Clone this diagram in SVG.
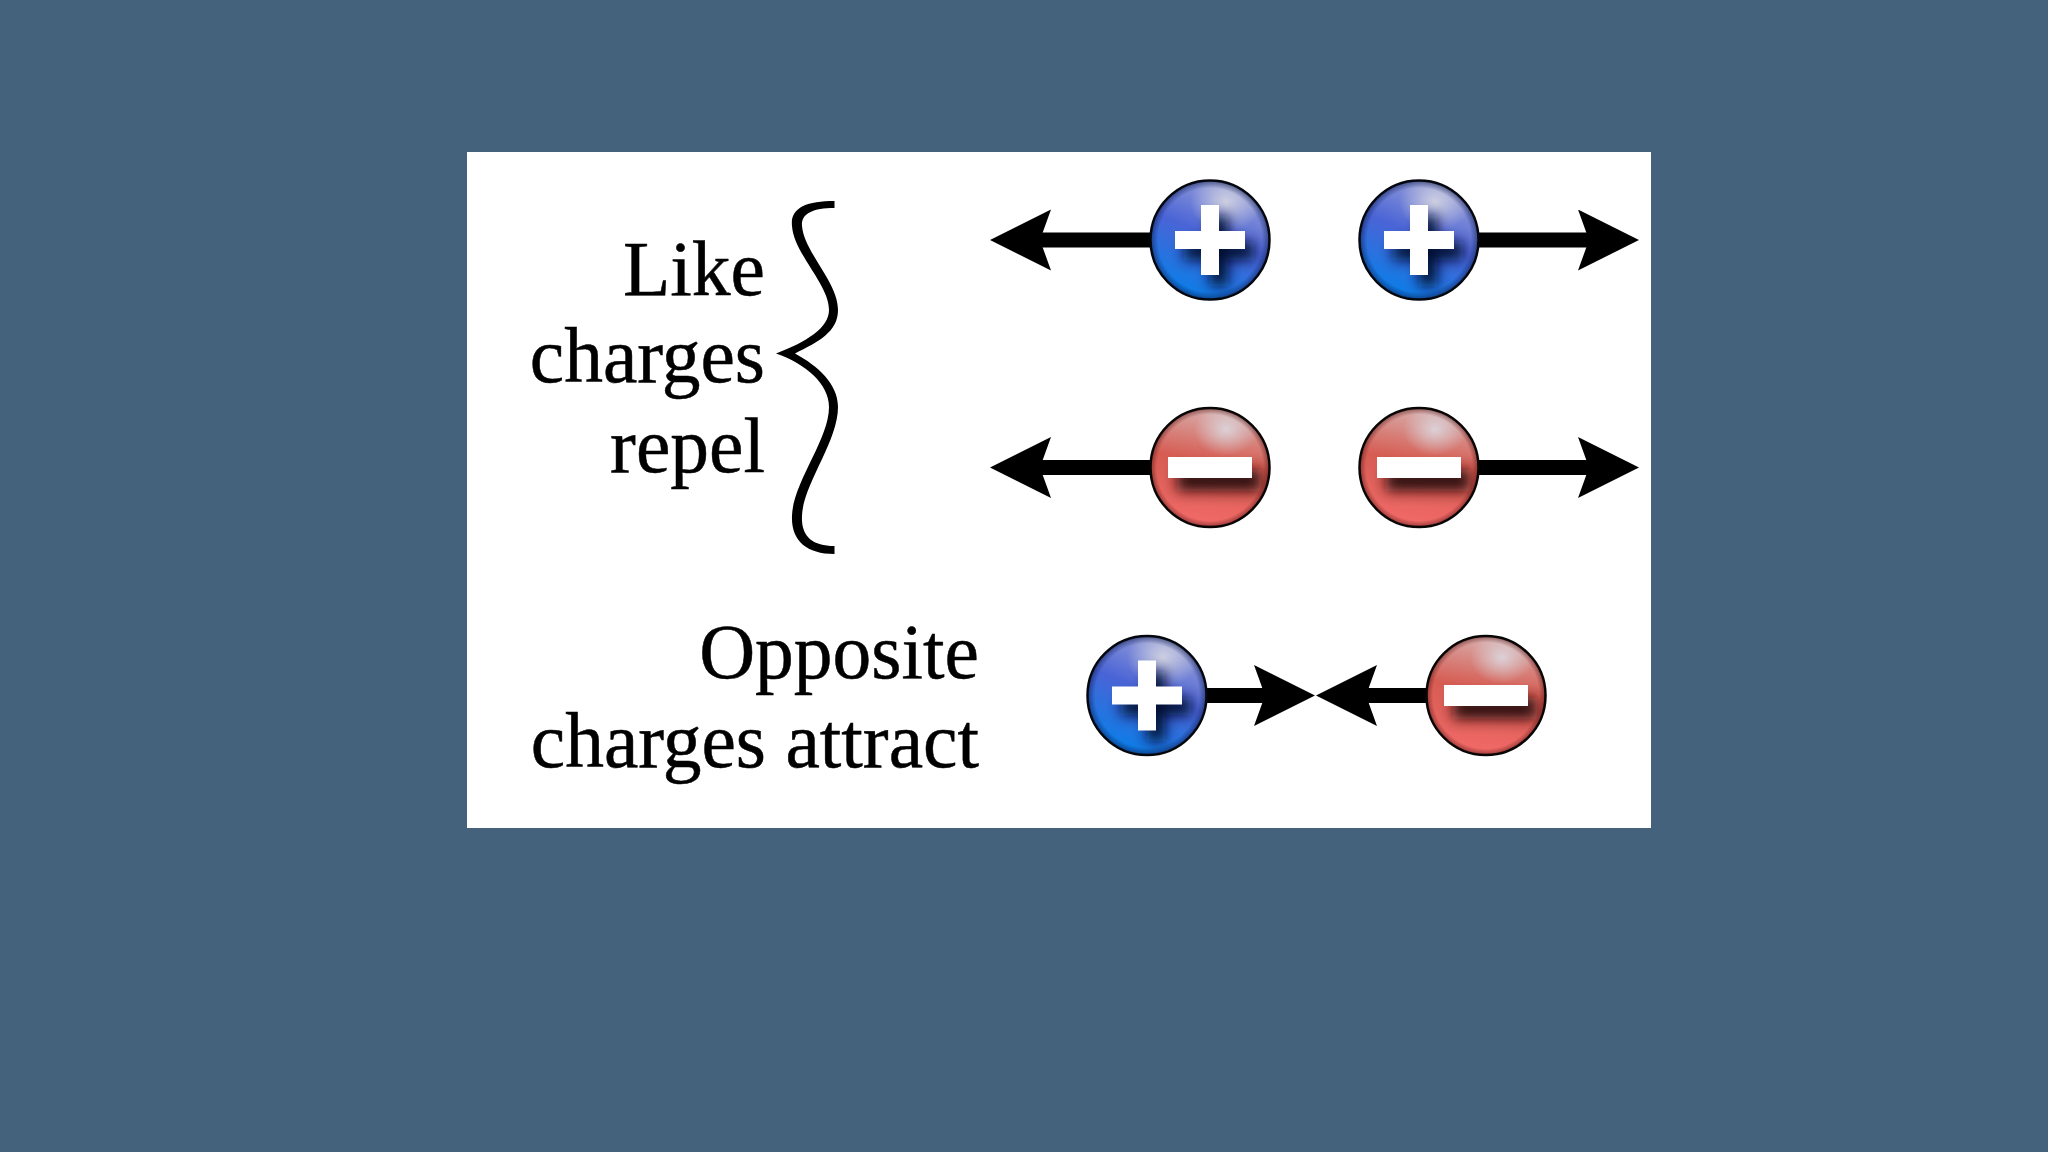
<svg xmlns="http://www.w3.org/2000/svg" width="2048" height="1152" viewBox="0 0 2048 1152">
<style>
.lbl{font-family:"Liberation Serif","Times New Roman",serif;font-size:77.500px;fill:#000;stroke:#000;stroke-width:.5;text-anchor:end}
.shaft{stroke:#000;stroke-width:15;fill:none;marker-end:url(#head)}
</style>
<defs>
<marker id="head" markerUnits="userSpaceOnUse" markerWidth="62" markerHeight="62" viewBox="0 0 62 62" refX="20" refY="30.5" orient="auto"><path d="M0,0 L61,30.5 L0,61 L11,30.5 Z" fill="#000"/></marker>
<filter id="soft" x="-50%" y="-80%" width="200%" height="260%"><feGaussianBlur stdDeviation="7"/></filter>
<clipPath id="ball"><circle r="59"/></clipPath>
<linearGradient id="bBase" x1="0.8" y1="0" x2="0.4" y2="1"><stop offset="0" stop-color="#a4a8d8"/><stop offset=".5" stop-color="#4a64d6"/><stop offset="1" stop-color="#0a7ee8"/></linearGradient>
<linearGradient id="rBase" x1="0.6" y1="0" x2="0.45" y2="1"><stop offset="0" stop-color="#d8b0ae"/><stop offset=".45" stop-color="#d65c52"/><stop offset="1" stop-color="#f26a68"/></linearGradient>
<radialGradient id="hi" cx=".5" cy=".5" r=".5"><stop offset="0" stop-color="#dcdce4" stop-opacity=".85"/><stop offset="1" stop-color="#dcdce4" stop-opacity="0"/></radialGradient>
<radialGradient id="rimB" cx=".5" cy=".5" r=".5"><stop offset=".88" stop-color="#0a1a50" stop-opacity="0"/><stop offset="1" stop-color="#0a1a50" stop-opacity=".55"/></radialGradient>
<radialGradient id="rimR" cx=".5" cy=".5" r=".5"><stop offset=".9" stop-color="#501010" stop-opacity="0"/><stop offset="1" stop-color="#501010" stop-opacity=".5"/></radialGradient>
<g id="plusBall">
<circle r="59" fill="url(#bBase)"/>
<g clip-path="url(#ball)">
<ellipse cx="16" cy="-38" rx="36" ry="30" fill="url(#hi)"/>
<path d="M-35,-9H-9V-35H9V-9H35V9H9V35H-9V9H-35Z" transform="translate(9,11)" fill="#060c30" filter="url(#soft)"/>
<circle r="59" fill="url(#rimB)"/>
</g>
<circle r="59.500" fill="none" stroke="#05070f" stroke-width="2.500"/>
<path d="M-35,-9H-9V-35H9V-9H35V9H9V35H-9V9H-35Z" fill="#fff"/>
</g>
<g id="minusBall">
<circle r="59" fill="url(#rBase)"/>
<g clip-path="url(#ball)">
<ellipse cx="16" cy="-38" rx="32" ry="26" fill="url(#hi)"/>
<rect x="-42" y="-10.500" width="84" height="21" transform="translate(9,13)" fill="#2a0808" filter="url(#soft)"/>
<circle r="59" fill="url(#rimR)"/>
</g>
<circle r="59.500" fill="none" stroke="#0a0505" stroke-width="2.500"/>
<rect x="-42" y="-10.500" width="84" height="21" fill="#fff"/>
</g>
</defs>
<rect width="2048" height="1152" fill="#44627c"/>
<rect x="467" y="152" width="1184" height="676" fill="#fff"/>
<g id="connectors">
<line class="shaft" x1="1155" y1="240" x2="1031" y2="240"/>
<line class="shaft" x1="1475" y1="240" x2="1598" y2="240"/>
<line class="shaft" x1="1155" y1="467.500" x2="1031" y2="467.500"/>
<line class="shaft" x1="1475" y1="467.500" x2="1598" y2="467.500"/>
<line class="shaft" x1="1204" y1="695.500" x2="1274" y2="695.500"/>
<line class="shaft" x1="1430" y1="695.500" x2="1357" y2="695.500"/>
</g>
<g id="brace"><path d="M834.500,201 C806,201 790,208 792,226 C794,254 829,284 829,310 C829,328 806,342 776,353.500 C806,364 829,384 829,407 C829,440 793,482 792,516 C791,540 806,554 834.500,554 L834.500,546 C812,546 801,536 802,516 C803,484 838,442 838,407 C838,384 818,366 795,353.500 C818,342 838,332 838,310 C838,282 804,252 802,226 C801,214 812,208 834.500,208 Z" fill="#000"/></g>
<g id="label-like"><text class="lbl" x="765" y="295">Like</text><text class="lbl" x="765" y="382">charges</text><text class="lbl" x="765" y="472">repel</text></g>
<g id="label-opposite"><text class="lbl" x="979" y="678">Opposite</text><text class="lbl" x="979" y="767">charges attract</text></g>
<g id="charge-plus-left"><use href="#plusBall" x="1210" y="240"/></g>
<g id="charge-plus-right"><use href="#plusBall" x="1419" y="240"/></g>
<g id="charge-minus-left"><use href="#minusBall" x="1210" y="467.500"/></g>
<g id="charge-minus-right"><use href="#minusBall" x="1419" y="467.500"/></g>
<g id="charge-plus-bottom"><use href="#plusBall" x="1147" y="695.500"/></g>
<g id="charge-minus-bottom"><use href="#minusBall" x="1486" y="695.500"/></g>
</svg>
